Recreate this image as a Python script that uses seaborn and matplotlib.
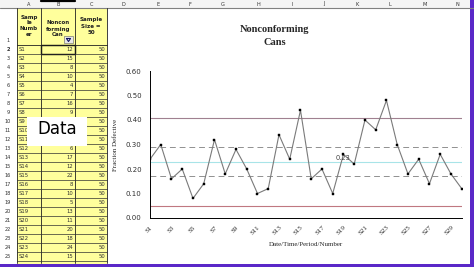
import numpy as np
import matplotlib
matplotlib.use("Agg")
import matplotlib.pyplot as plt
import pandas as pd
import seaborn as sns
from matplotlib.patches import Rectangle

# data
samples = ["S%d" % i for i in range(1, 31)]
nonconforming = [12, 15, 8, 10, 4, 7, 16, 9, 14, 10, 5, 6, 17, 12, 22,
                 8, 10, 5, 13, 11, 20, 18, 24, 15, 9, 12, 7, 13, 9, 6]
sample_size = 50
center = 0.23
ucl, lcl = 0.41, 0.05
sigma_up, sigma_down = 0.29, 0.17
y_ticks = [0.0, 0.1, 0.2, 0.3, 0.4, 0.5, 0.6]
col_letters = ["A", "B", "C", "D", "E", "F", "G", "H", "I", "J", "K", "L", "M", "N"]
col_letter_x = [29, 58, 91, 123, 158, 190, 223, 258, 292, 324, 357, 390, 425, 457]
table_rows = 24  # rows S1..S24 visible in the sheet
hidden_b = [8, 9, 10]  # cells of column B sitting under the "Data" label

df = pd.DataFrame({"pos": np.arange(len(samples)),
                   "fraction": np.array(nonconforming) / sample_size})

sns.set_style("white")
plt.rcParams["font.family"] = ["DejaVu Sans"]

W, H = 474, 267
fig = plt.figure(figsize=(W / 100, H / 100), dpi=100)

# ---- spreadsheet background (pixel coordinates)
bg = fig.add_axes([0, 0, 1, 1])
bg.set_xlim(0, W)
bg.set_ylim(H, 0)
bg.axis("off")

yellow = "#ffff9c"
row_h = 9.03
row2_top = 44.5
header_top = 8

# column header strip
bg.add_patch(Rectangle((0, 0), W, header_top, color="#f4f4f4", lw=0))
bg.plot([0, W], [header_top, header_top], color="#808080", lw=0.8)
bg.plot([41, 75], [0.8, 0.8], color="black", lw=1.6)
for letter, x in zip(col_letters, col_letter_x):
    bg.text(x, 4, letter, fontsize=3.6, ha="center", va="center", color="#303030")

# yellow table columns A..C
bg.add_patch(Rectangle((17, header_top), 90, H - header_top, color=yellow, lw=0))
for x in [17, 41, 75, 107]:
    bg.plot([x, x], [header_top, 263], color="#202020", lw=0.6)

# header row
bg.plot([17, 107], [row2_top, row2_top], color="#202020", lw=0.6)
bg.text(29, 26, "Samp\nle\nNumb\ner", fontsize=4, fontweight="bold", ha="center",
        va="center", linespacing=1.25, color="#202020")
bg.text(58, 29, "Noncon\nforming\nCan", fontsize=4, fontweight="bold", ha="center",
        va="center", linespacing=1.25, color="#202020")
bg.add_patch(Rectangle((64, 36), 9, 7, facecolor="#e8e8e8", edgecolor="#606060", lw=0.4))
bg.plot([66.5, 70.5, 68.5, 66.5], [38.5, 38.5, 41.5, 38.5], color="#101060", lw=0.8)
bg.text(91, 26, "Sample\nSize =\n50", fontsize=4, fontweight="bold", ha="center",
        va="center", linespacing=1.25, color="#202020")
bg.text(8, 40, "1", fontsize=3.6, ha="center", va="center", color="#303030")

# data rows
for i in range(table_rows):
    top = row2_top + i * row_h
    mid = top + row_h / 2
    bg.plot([17, 107], [top + row_h, top + row_h], color="#303030", lw=0.5)
    bg.text(8, mid, str(i + 2), fontsize=3.6, ha="center", va="center",
            color="#303030", fontweight="bold" if i == 0 else "normal")
    bg.text(19, mid, samples[i], fontsize=3.8, ha="left", va="center", color="#303030")
    if i not in hidden_b:
        bg.text(73, mid, str(nonconforming[i]), fontsize=3.8, ha="right", va="center",
                color="#303030")
    bg.text(105, mid, str(sample_size), fontsize=3.8, ha="right", va="center", color="#303030")
bg.add_patch(Rectangle((41, row2_top), 34, row_h, facecolor="none",
                       edgecolor="black", lw=1.0))

# "Data" label box
bg.add_patch(Rectangle((27, 117), 60, 29, color="white", lw=0, zorder=5))
bg.text(57, 129, "Data", fontsize=12, ha="center", va="center", color="black", zorder=6)

# chart area title
bg.text(275, 36, "Nonconforming\nCans", fontsize=7.5, fontweight="bold", ha="center",
        va="center", family="Liberation Serif", linespacing=1.6)

# window border
bg.add_patch(Rectangle((470.5, 0), 4, H, color="#5a28c8", lw=0))
bg.add_patch(Rectangle((0, 263.5), W, 4, color="#5a28c8", lw=0))

# ---- control chart
x0, x1 = 150, 461.7
y0, y1 = 218, 71
ax = fig.add_axes([x0 / W, (H - y0) / H, (x1 - x0) / W, (y0 - y1) / H])
ax.patch.set_alpha(0)

ax.axhline(ucl, color="#a08090", lw=0.8)
ax.axhline(lcl, color="#c07880", lw=0.8)
ax.axhline(center, color="#a8e4e8", lw=0.8)
ax.axhline(sigma_up, color="#909090", lw=0.7, ls=(0, (6, 4)))
ax.axhline(sigma_down, color="#909090", lw=0.7, ls=(0, (6, 4)))

sns.lineplot(data=df, x="pos", y="fraction", ax=ax, color="#7a7a7a", lw=0.8)
sns.scatterplot(data=df, x="pos", y="fraction", ax=ax, color="black", marker="s",
                s=4, edgecolor="black", linewidth=0.3, zorder=4)

ax.text(18, center + 0.004, "%.2f" % center, fontsize=4.8, color="#404040",
        ha="center", va="bottom")

ax.set_xlim(0, len(samples) - 1)
ax.set_ylim(0, 0.6)
ax.set_xticks(df["pos"])
ax.set_xticklabels([s if i % 2 == 0 else "" for i, s in enumerate(samples)],
                   rotation=45, ha="right", rotation_mode="anchor",
                   fontsize=5, family="Liberation Serif")
ax.set_yticks(y_ticks)
ax.set_yticklabels(["%.2f" % v for v in y_ticks], fontsize=5, color="#303030")
ax.tick_params(axis="x", direction="inout", length=4, width=0.6, pad=3)
ax.tick_params(axis="y", direction="out", length=3, width=0.6, pad=3)
for side in ["top", "right"]:
    ax.spines[side].set_visible(False)
for side in ["left", "bottom"]:
    ax.spines[side].set_color("black")
    ax.spines[side].set_linewidth(0.7)
ax.set_xlabel("Date/Time/Period/Number", fontsize=5, family="Liberation Serif", labelpad=4)
ax.set_ylabel("Fraction Defective", fontsize=5, family="Liberation Serif", labelpad=6)

fig.savefig("out.png", dpi=100)
